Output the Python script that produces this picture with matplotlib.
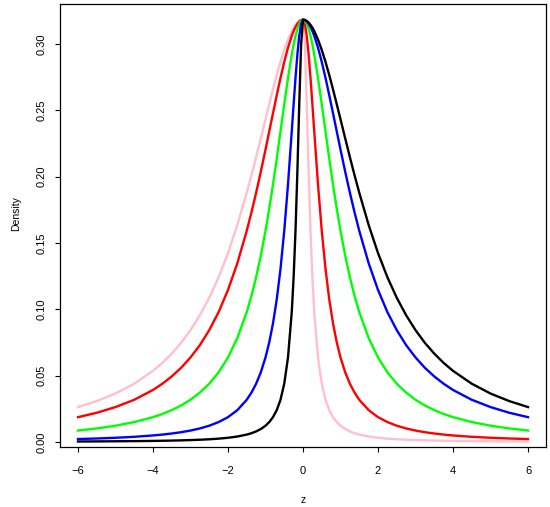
import matplotlib
matplotlib.use("Agg")
import matplotlib.pyplot as plt

plt.rcParams['font.family'] = ['Liberation Sans', 'DejaVu Sans']

# grid of z values the curves were read at
z = [-6, -5.5, -5, -4.5, -4, -3.75, -3.5, -3.25, -3, -2.75, -2.5, -2.25, -2,
     -1.75, -1.5, -1.375, -1.25, -1.125, -1, -0.9, -0.8, -0.7, -0.6, -0.5,
     -0.4, -0.3, -0.25, -0.2, -0.15, -0.1, -0.05, 0,
     0.05, 0.1, 0.15, 0.2, 0.25, 0.3, 0.4, 0.5, 0.6, 0.7, 0.8, 0.9, 1,
     1.125, 1.25, 1.375, 1.5, 1.75, 2, 2.25, 2.5, 2.75, 3, 3.25, 3.5, 3.75,
     4, 4.5, 5, 5.5, 6]

black = [0.00035, 0.00042, 0.00051, 0.00063, 0.00079, 0.0009, 0.00104, 0.0012,
         0.00141, 0.00168, 0.00202, 0.0025, 0.00315, 0.0041, 0.00556, 0.00659,
         0.00795, 0.00975, 0.01224, 0.0150, 0.0187, 0.0240, 0.0318, 0.0439,
         0.0637, 0.0979, 0.1242, 0.1592, 0.2037, 0.2546, 0.2996, 0.3183,
         0.3181, 0.3173, 0.3161, 0.3144, 0.3123, 0.3097, 0.3033, 0.2955,
         0.2865, 0.2765, 0.2658, 0.2546, 0.2432, 0.2289, 0.2147, 0.2010,
         0.1879, 0.1636, 0.1424, 0.1242, 0.1087, 0.0955, 0.0843, 0.0747,
         0.0666, 0.0596, 0.0536, 0.0439, 0.0365, 0.0308, 0.0263]

blue = [0.0022, 0.00261, 0.00315, 0.00388, 0.0049, 0.00556, 0.00637, 0.00736,
        0.0086, 0.0102, 0.01224, 0.0150, 0.0187, 0.0240, 0.0318, 0.0372,
        0.0439, 0.0525, 0.0637, 0.0751, 0.0894, 0.1075, 0.1305, 0.1592,
        0.1941, 0.2341, 0.2546, 0.2744, 0.2920, 0.3061, 0.3152, 0.3183,
        0.3180, 0.3169, 0.3152, 0.3128, 0.3097, 0.3061, 0.2972, 0.2865,
        0.2744, 0.2614, 0.2478, 0.2341, 0.2204, 0.2037, 0.1879, 0.1730,
        0.1592, 0.1348, 0.1146, 0.0979, 0.0843, 0.0730, 0.0637, 0.0559,
        0.0494, 0.0439, 0.0392, 0.0318, 0.0263, 0.0220, 0.0187]

green = [0.0086, 0.0102, 0.01224, 0.0150, 0.0187, 0.0211, 0.0240, 0.0275,
         0.0318, 0.0372, 0.0439, 0.0525, 0.0637, 0.0784, 0.0979, 0.1101,
         0.1242, 0.1405, 0.1592, 0.1759, 0.1941, 0.2136, 0.2341, 0.2546,
         0.2744, 0.2920, 0.2996, 0.3061, 0.3113, 0.3152, 0.3175, 0.3183,
         0.3175, 0.3152, 0.3113, 0.3061, 0.2996, 0.2920, 0.2744, 0.2546,
         0.2341, 0.2136, 0.1941, 0.1759, 0.1592, 0.1405, 0.1242, 0.1101,
         0.0979, 0.0784, 0.0637, 0.0525, 0.0439, 0.0372, 0.0318, 0.0275,
         0.0240, 0.0211, 0.0187, 0.0150, 0.01224, 0.0102, 0.0086]

red = [0.0187, 0.0220, 0.0263, 0.0318, 0.0392, 0.0439, 0.0494, 0.0559,
       0.0637, 0.0730, 0.0843, 0.0979, 0.1146, 0.1348, 0.1592, 0.1730,
       0.1879, 0.2037, 0.2204, 0.2341, 0.2478, 0.2614, 0.2744, 0.2865,
       0.2972, 0.3061, 0.3097, 0.3128, 0.3152, 0.3169, 0.3180, 0.3183,
       0.3152, 0.3061, 0.2920, 0.2744, 0.2546, 0.2341, 0.1941, 0.1592,
       0.1305, 0.1075, 0.0894, 0.0751, 0.0637, 0.0525, 0.0439, 0.0372,
       0.0318, 0.0240, 0.0187, 0.0150, 0.01224, 0.0102, 0.0086, 0.00736,
       0.00637, 0.00556, 0.0049, 0.00388, 0.00315, 0.00261, 0.0022]

pink = [0.0263, 0.0308, 0.0365, 0.0439, 0.0536, 0.0596, 0.0666, 0.0747,
        0.0843, 0.0955, 0.1087, 0.1242, 0.1424, 0.1636, 0.1879, 0.2010,
        0.2147, 0.2289, 0.2432, 0.2546, 0.2658, 0.2765, 0.2865, 0.2955,
        0.3033, 0.3097, 0.3123, 0.3144, 0.3161, 0.3173, 0.3181, 0.3183,
        0.2996, 0.2546, 0.2037, 0.1592, 0.1242, 0.0979, 0.0637, 0.0439,
        0.0318, 0.0240, 0.0187, 0.0150, 0.01224, 0.00975, 0.00795, 0.00659,
        0.00556, 0.0041, 0.00315, 0.0025, 0.00202, 0.00168, 0.00141, 0.0012,
        0.00104, 0.0009, 0.00079, 0.00063, 0.00051, 0.00042, 0.00035]

x_ticks = [-6, -4, -2, 0, 2, 4, 6]
y_ticks = [0.00, 0.05, 0.10, 0.15, 0.20, 0.25, 0.30]
y_tick_labels = ["0.00", "0.05", "0.10", "0.15", "0.20", "0.25", "0.30"]

W, H = 550, 507
fig = plt.figure(figsize=(W / 100, H / 100), dpi=100)
ax = fig.add_axes([60 / W, 60 / H, 486 / W, 443 / H])

ax.plot(z, pink, color="#FFC0CB", lw=1.7)
ax.plot(z, red, color="#FF0000", lw=1.7)
ax.plot(z, green, color="#00FF00", lw=1.7)
ax.plot(z, blue, color="#0000FF", lw=1.7)
ax.plot(z, black, color="black", lw=1.7)

ax.set_xlim(-6.48, 6.48)
ax.set_ylim(-0.0038, 0.3301)

ax.set_xticks(x_ticks)
ax.set_xticklabels([str(t).replace("-", "\u2212") for t in x_ticks])
ax.set_yticks(y_ticks)
ax.set_yticklabels(y_tick_labels, rotation=90, va="center")
ax.tick_params(direction="out", length=3.6, width=0.8, labelsize=8)
ax.tick_params(axis="x", pad=10)
ax.tick_params(axis="y", pad=6)

for s in ax.spines.values():
    s.set_linewidth(0.9)

# axis titles placed where the reference has them
fig.text(303 / W, 1 - 500 / H, "z", fontsize=7.5, ha="center", va="center")
fig.text(16.5 / W, 1 - 213.5 / H, "Density", fontsize=7.5, rotation=90,
         ha="center", va="center")

fig.savefig("out.png", dpi=100)
